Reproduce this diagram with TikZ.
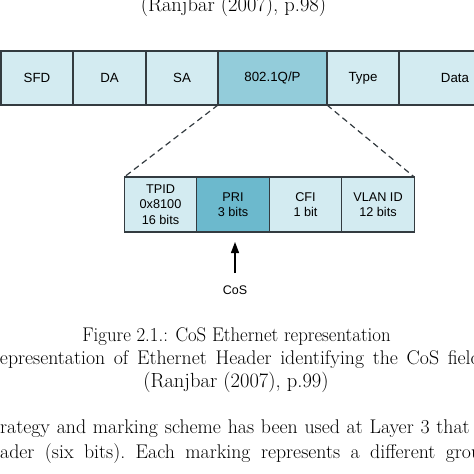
\documentclass[tikz,border=0pt]{standalone}
\usepackage{fontspec}
\usepackage{graphicx}
\newfontfamily\sansf{Liberation Sans}
\usetikzlibrary{arrows.meta}
\definecolor{light}{HTML}{D3EBF1}
\definecolor{mid}{HTML}{93CCDA}
\definecolor{deep}{HTML}{6CB9CD}
\definecolor{edge}{HTML}{333B40}
\tikzset{
  field/.style={draw=edge, line width=1.4pt, fill=light, rectangle, inner sep=0pt, outer sep=0pt,
    font=\sansf\fontsize{13.3}{15}\selectfont, align=center},
  subfield/.style={field, minimum width=72.5pt, minimum height=55pt, font=\sansf\fontsize{12.7}{15.5}\selectfont},
  captxt/.style={font=\fontsize{19.8}{23}\selectfont, inner sep=0pt, anchor=base},
  bigcap/.style={captxt, font=\fontsize{20.5}{23}\selectfont},
  zoomline/.style={draw=edge, line width=1.2pt, dash pattern=on 6pt off 4pt}
}
\begin{document}
\begin{tikzpicture}[x=1pt,y=-1pt]
\useasboundingbox (0,0) rectangle (474,474);
\clip (0,0) rectangle (474,474);
% top caption remnant
\node[bigcap] (prev) at (233.5,11) {(Ranjbar (2007), p.98)};
% top row
\node[field, minimum width=72pt, minimum height=54pt] (sfd) at (37,78) {SFD};
\node[field, minimum width=73pt, minimum height=54pt] (da) at (109.5,78) {DA};
\node[field, minimum width=72pt, minimum height=54pt] (sa) at (182,78) {SA};
\node[field, fill=mid, minimum width=109pt, minimum height=54pt] (q) at (272.5,78) {802.1Q/P};
\node[field, minimum width=72pt, minimum height=54pt] (type) at (363,78) {Type};
\node[field, minimum width=112pt, minimum height=54pt] (data) at (455,78) {Data};
% second row
\node[subfield] (tpid) at (160.5,204.5) {TPID\\0x8100\\16 bits};
\node[subfield, fill=deep] (pri) at (233,204.5) {PRI\\3 bits};
\node[subfield] (cfi) at (305.5,204.5) {CFI\\1 bit};
\node[subfield] (vlan) at (378,204.5) {VLAN ID\\12 bits};
% zoom lines
\draw[zoomline] (q.south west) -- (tpid.north west);
\draw[zoomline] (q.south east) -- (vlan.north east);
% CoS arrow
\node[font=\sansf\fontsize{12.5}{14}\selectfont, inner sep=1pt] (cos) at (235,290) {CoS};
\coordinate (tip) at (235,242);
\draw[line width=1.3pt, -{Triangle[length=11pt,width=8pt]}] (235,273) -- (tip);
% caption
\node[captxt] (cap1) at (236.5,341) {\scalebox{0.95}[1]{Figure 2.1.: CoS Ethernet representation}};
\node[captxt, anchor=base east] (cap2) at (481,364) {\spaceskip=\dimexpr\fontdimen2\font+2.7pt\relax A representation of Ethernet Header identifying the CoS field};
\node[bigcap] (cap3) at (236,387) {(Ranjbar (2007), p.99)};
% body text
\node[captxt, anchor=base west] (body1) at (0,433) {\spaceskip=6.8pt\xspaceskip=6.8pt\llap{st}rategy and marking scheme has been used at Layer 3 that is the};
\node[captxt, anchor=base west] (body2) at (0,458) {\spaceskip=10.5pt\xspaceskip=10.5pt\llap{he}ader (six bits). Each marking represents a different group of};
\end{tikzpicture}
\end{document}
